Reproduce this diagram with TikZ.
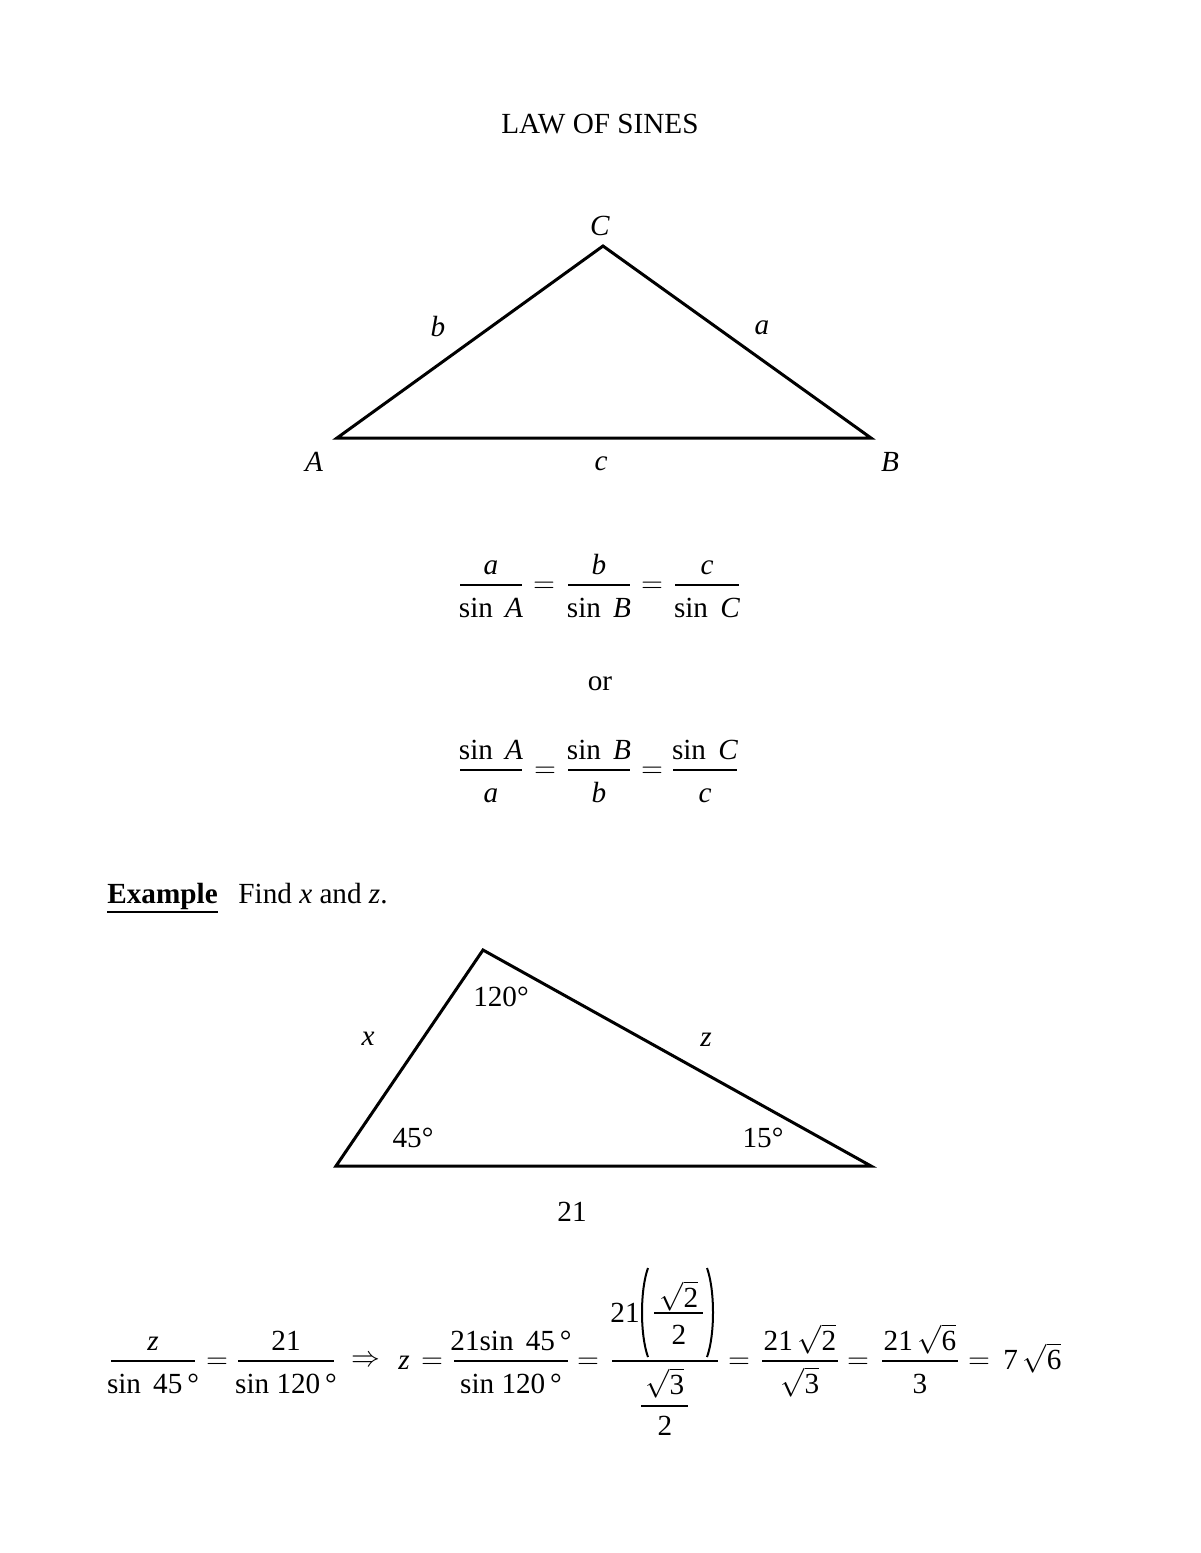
\documentclass[tikz,border=0pt]{standalone}
\usepackage{fontspec}
\setmainfont{Liberation Serif}
\usepackage{tikz}

% fraction: name, x, y of bar, half width, numerator, denominator
\newcommand\fracat[6]{%
  \draw[fracbar] (#2-#4,#3) coordinate (#1l) -- (#2+#4,#3) coordinate (#1r);
  \node[anchor=base] (#1n) at (#2,#3-11) {#5};
  \node[anchor=base] (#1d) at (#2,#3+32) {#6};}
% equals sign centred on a bar height
\newcommand\eqat[3]{\node[anchor=base] (#1) at (#2,#3+7.3) {$=$};}
\newcommand\rt[1]{$\sqrt{\mbox{#1}}$}

\begin{document}
\begin{tikzpicture}[x=0.5pt,y=-0.5pt,
    every node/.style={inner sep=0pt,font=\fontsize{14.6}{17.5}\selectfont},
    side/.style={line width=1.5pt},
    fracbar/.style={line width=0.8pt},
    paren/.style={line width=1pt}]
  \useasboundingbox (0,0) rectangle (1200,1553);

  \node[anchor=base] (title) at (600,133) {LAW OF SINES};

  % triangle ABC
  \coordinate (A) at (337,438);
  \coordinate (B) at (871,438);
  \coordinate (C) at (603,246);
  \draw[side] (A) -- (B) -- (C) -- cycle;
  \node (lC) at (600,226) {\textit{C}};
  \node (lA) at (314,462) {\textit{A}};
  \node (lB) at (890,462) {\textit{B}};
  \node (la) at (762,328) {\textit{a}};
  \node (lb) at (438,327) {\textit{b}};
  \node (lc) at (601,464) {\textit{c}};

  % a/sin A = b/sin B = c/sin C
  \fracat{f1}{491}{585}{31}{\textit{a}}{sin\, \textit{A}}
  \eqat{e1}{544}{585}
  \fracat{f2}{599}{585}{31}{\textit{b}}{sin\, \textit{B}}
  \eqat{e2}{652}{585}
  \fracat{f3}{707}{585}{32}{\textit{c}}{sin\, \textit{C}}

  \node (or) at (600,684) {or};

  % sin A/a = sin B/b = sin C/c
  \fracat{g1}{491}{770}{31}{sin\, \textit{A}}{\textit{a}}
  \eqat{h1}{545}{770}
  \fracat{g2}{599}{770}{31}{sin\, \textit{B}}{\textit{b}}
  \eqat{h2}{652}{770}
  \fracat{g3}{705}{770}{32}{sin\, \textit{C}}{\textit{c}}

  % example
  \node[anchor=base west] (ex) at (107,903) {\textbf{Example}};
  \draw[line width=1pt] ([yshift=-1pt]ex.south west) -- ([yshift=-1pt]ex.south east);
  \node[anchor=base west] (task) at (238,903) {Find \textit{x} and \textit{z}.};

  % triangle with angles
  \coordinate (P) at (336,1166);
  \coordinate (Q) at (483,950);
  \coordinate (R) at (871,1166);
  \draw[side] (P) -- (R) -- (Q) -- cycle;
  \node (aQ) at (501,997) {120°};
  \node (aP) at (413,1138) {45°};
  \node (aR) at (763,1138) {15°};
  \node (sx) at (368,1039) {\textit{x}};
  \node (sz) at (706,1040) {\textit{z}};
  \node (s21) at (572,1212) {21};

  % solution
  \fracat{k1}{153}{1361}{42}{\textit{z}}{sin\, 45\,°}
  \eqat{m1}{217}{1361}
  \fracat{k2}{286}{1361}{48}{21}{sin 120\,°}
  \node (imp) at (366,1361) {$\Rightarrow$};
  \node[anchor=base] (zz) at (404,1369) {\textit{z}};
  \eqat{m2}{432}{1361}
  \fracat{k3}{511}{1361}{57}{21sin\, 45\,°}{sin 120\,°}
  \eqat{m3}{588}{1361}
  % nested fraction
  \draw[fracbar] (612,1361) coordinate (k4l) -- (718,1361) coordinate (k4r);
  \node[anchor=base] (k4a) at (625,1322) {21};
  \draw[paren] (648,1268) .. controls (640,1290) and (640,1335) .. (648,1357);
  \draw[paren] (707,1268) .. controls (715,1290) and (715,1335) .. (707,1357);
  \draw[fracbar] (654,1313) -- (703,1313);
  \node[anchor=base] (k4b) at (679,1307) {\rt{2}};
  \node[anchor=base] (k4c) at (679,1344) {2};
  \draw[fracbar] (641,1406) -- (688,1406);
  \node[anchor=base] (k4d) at (665,1394) {\rt{3}};
  \node[anchor=base] (k4e) at (665,1435) {2};
  \eqat{m4}{739}{1361}
  \fracat{k5}{800}{1361}{38}{21\,\rt{2}}{\rt{3}}
  \eqat{m5}{858}{1361}
  \fracat{k6}{920}{1361}{38}{21\,\rt{6}}{3}
  \eqat{m6}{979}{1361}
  \node[anchor=base west] (res) at (1003,1369) {7\,\rt{6}};
\end{tikzpicture}
\end{document}
